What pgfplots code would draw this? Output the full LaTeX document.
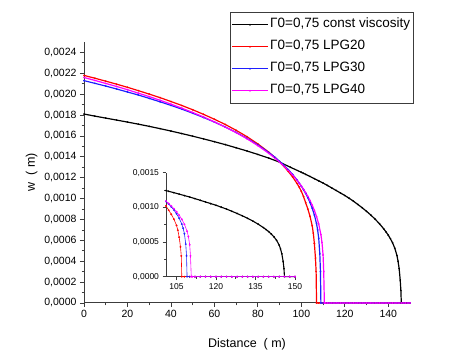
\documentclass[border=0pt]{standalone}
\usepackage{fontspec}
\setmainfont{Liberation Sans}
\usepackage{pgfplots}
\usepackage{pgfplotstable}
\pgfplotsset{compat=1.18}
\definecolor{mag}{RGB}{255,0,255}
\definecolor{blu}{RGB}{30,30,255}
\definecolor{axgray}{RGB}{60,60,60}

\pgfplotstableread{
x y
0 0.00181
5 0.00179
10 0.001771
15 0.001752
20 0.001733
25 0.001713
30 0.001692
35 0.00167
40 0.001647
45 0.001623
50 0.001598
55 0.001572
60 0.001545
65 0.001517
70 0.001487
75 0.001456
80 0.001423
85 0.001388
90 0.001349
95 0.0013
100 0.001252
101 0.001242
102 0.001232
104 0.001212
106 0.001191
108 0.00117
110 0.001149
112 0.001126
114 0.001102
116 0.001078
118 0.001054
120 0.00103
122 0.001003
124 0.000975
126 0.000944
128 0.000912
130 0.000878
132 0.000842
134 0.000802
136 0.000758
138 0.000708
139 0.00068
140 0.00065
141 0.000615
142 0.000575
143 0.000525
144 0.000455
144.5 0.0004
145 0.00033
145.5 0.00022
145.8 0.00012
146 0
148 0
150 0
}\tblack

\pgfplotstableread{
x y
0 0.002180
5 0.002153
10 0.002125
15 0.002096
20 0.002066
25 0.002034
30 0.002001
35 0.001967
40 0.001930
45 0.001892
50 0.001851
55 0.001807
60 0.001760
65 0.001710
70 0.001654
75 0.001593
80 0.001524
85 0.001445
88 0.001391
90 0.001351
92 0.001308
94 0.001260
96 0.001207
98 0.001145
99 0.001111
100 0.00107
101 0.00102
102 0.00096
103 0.0009
104 0.00083
105 0.00074
105.5 0.00067
106 0.00057
106.5 0.00043
106.8 0.0003
107 0
108 0
110 0
112 0
114 0
116 0
118 0
120 0
122 0
124 0
126 0
128 0
130 0
132 0
134 0
136 0
138 0
140 0
142 0
144 0
146 0
148 0
150 0
}\tred

\pgfplotstableread{
x y
0 0.002130
5 0.002104
10 0.002078
15 0.002050
20 0.002021
25 0.001992
30 0.001960
35 0.001927
40 0.001893
45 0.001857
50 0.001818
55 0.001777
60 0.001733
65 0.001686
70 0.001634
75 0.001577
80 0.001514
85 0.001442
88 0.001393
90 0.001357
92 0.001319
94 0.001277
96 0.001231
98 0.001179
99 0.001150
100 0.001119
101 0.001086
102 0.001049
103 0.001008
104 0.000962
105 0.000908
106 0.000843
107 0.000759
107.5 0.0007
108 0.00062
108.5 0.00047
108.8 0.0003
109 0
110 0
112 0
114 0
116 0
118 0
120 0
122 0
124 0
126 0
128 0
130 0
132 0
134 0
136 0
138 0
140 0
142 0
144 0
146 0
148 0
150 0
}\tblue

\pgfplotstableread{
x y
0 0.002160
5 0.002132
10 0.002103
15 0.002074
20 0.002043
25 0.002010
30 0.001977
35 0.001942
40 0.001905
45 0.001866
50 0.001825
55 0.001782
60 0.001735
65 0.001685
70 0.001632
75 0.001573
80 0.001507
85 0.001434
88 0.001385
90 0.001349
92 0.001311
94 0.001270
96 0.001225
98 0.001176
99 0.001149
100 0.001120
101 0.001090
102 0.001056
103 0.001021
104 0.000981
105 0.000937
106 0.000887
107 0.000828
108 0.000756
109 0.000655
109.5 0.00058
110 0.00046
110.3 0.0003
110.6 0
111 0
112 0
114 0
116 0
118 0
120 0
122 0
124 0
126 0
128 0
130 0
132 0
134 0
136 0
138 0
140 0
142 0
144 0
146 0
148 0
150 0
}\tmag

\begin{document}
\begin{tikzpicture}
\path[use as bounding box] (0,0) rectangle (474pt,363pt);
\begin{axis}[
  at={(84pt,60pt)}, anchor=south west,
  scale only axis, width=326pt, height=261pt,
  xmin=0, xmax=150, ymin=0, ymax=0.0025,
  axis x line=bottom, axis y line=left,
  axis line style={-, axgray, line width=1pt},
  tick align=outside,
  major tick length=4pt, minor tick length=2.5pt,
  tick style={axgray, line width=0.8pt},
  xtick={0,20,...,140}, minor x tick num=1,
  ytick={0,0.0002,...,0.00241}, minor y tick num=1,
  scaled y ticks=false,
  /pgf/number format/assume math mode=true,
  yticklabel style={/pgf/number format/fixed, /pgf/number format/fixed zerofill, /pgf/number format/precision=4, /pgf/number format/use comma},
  ticklabel style={font=\fontsize{10.5}{12}\selectfont},
  xlabel={Distance~~( m)},
  ylabel={w~~( m)},
  xlabel style={font=\fontsize{12.5}{15}\selectfont, yshift=-14pt},
  ylabel style={font=\fontsize{12.5}{15}\selectfont},
  clip=false,
  legend style={at={(axis description cs:1.012,1.115)}, anchor=north east,
    draw=axgray, line width=0.6pt, font=\fontsize{13.5}{15}\selectfont,
    inner sep=1.5pt, row sep=0pt,
    nodes={text height=12pt, text depth=6pt}},
  legend cell align=left,
  legend image code/.code={\draw[mark repeat=2,mark phase=2,#1] plot coordinates {(0cm,0cm) (0.62cm,0cm) (1.25cm,0cm)};},
  legend image post style={line width=0.6pt},
]
\addplot[black, line width=1.2pt, mark=*, mark size=0.75pt, mark options={line width=0.2pt}] table {\tblack};
\addlegendentry{Γ0=0,75 const viscosity}
\addplot[red, line width=1.2pt, mark=*, mark size=0.75pt, mark options={line width=0.2pt}] table {\tred};
\addlegendentry{Γ0=0,75 LPG20}
\addplot[blu, line width=1.2pt, mark=*, mark size=0.75pt, mark options={line width=0.2pt}] table {\tblue};
\addlegendentry{Γ0=0,75 LPG30}
\addplot[mag, line width=1.2pt, mark=*, mark size=0.75pt, mark options={line width=0.2pt}] table {\tmag};
\addlegendentry{Γ0=0,75 LPG40}
\end{axis}

\begin{axis}[
  at={(166pt,86.3pt)}, anchor=south west,
  scale only axis, width=129pt, height=104pt,
  xmin=101, xmax=150, ymin=0, ymax=0.0015,
  axis x line=bottom, axis y line=left,
  axis line style={-, axgray, line width=0.9pt},
  tick align=outside,
  major tick length=3.5pt, minor tick length=2pt,
  tick style={axgray, line width=0.7pt},
  xtick={105,120,135,150}, minor x tick num=1,
  ytick={0,0.0005,0.001,0.0015}, minor y tick num=1,
  scaled y ticks=false,
  /pgf/number format/assume math mode=true,
  yticklabel style={/pgf/number format/fixed, /pgf/number format/fixed zerofill, /pgf/number format/precision=4, /pgf/number format/use comma},
  ticklabel style={font=\fontsize{8.5}{10}\selectfont},
  clip=false,
]
\addplot[black, line width=1.1pt, mark=*, mark size=0.75pt, mark options={line width=0.2pt}, restrict x to domain=100.5:151] table {\tblack};
\addplot[red, line width=0.6pt, mark=*, mark size=0.85pt, mark options={line width=0.2pt}, restrict x to domain=100.5:151] table {\tred};
\addplot[blu, line width=0.6pt, mark=*, mark size=0.85pt, mark options={line width=0.2pt}, restrict x to domain=100.5:151] table {\tblue};
\addplot[mag, line width=0.6pt, mark=*, mark size=0.85pt, mark options={line width=0.2pt}, restrict x to domain=100.5:151] table {\tmag};
\end{axis}
\end{tikzpicture}
\end{document}
